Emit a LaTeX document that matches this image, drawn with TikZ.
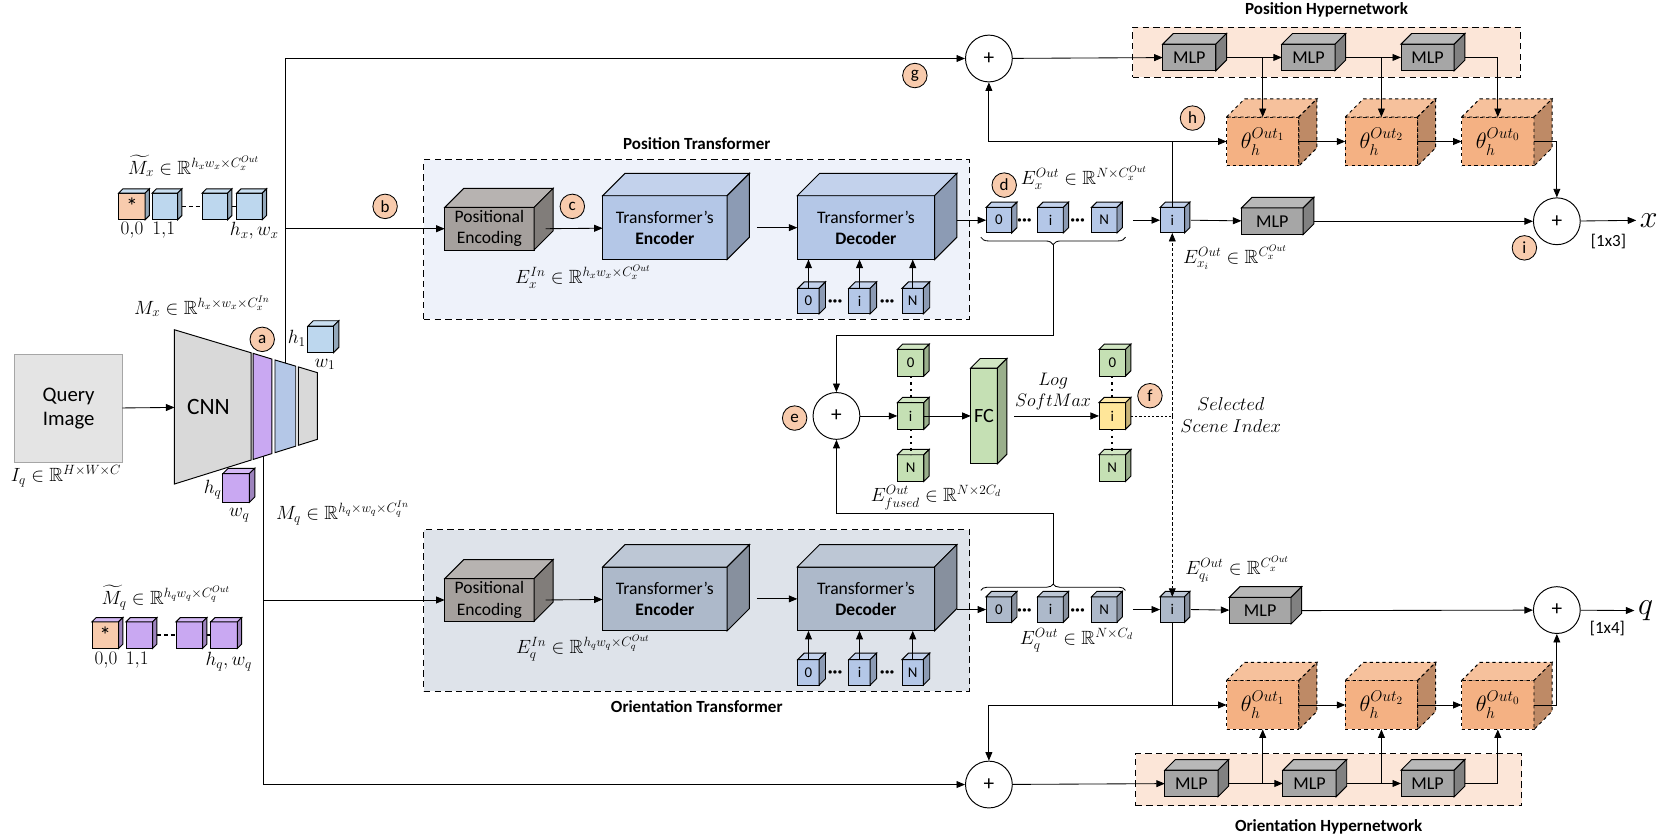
\RequirePackage{fix-cm}
\documentclass[tikz,border=0pt]{standalone}
\usepackage{amsmath,amssymb}
\usepackage{fontspec}
\setmainfont{Carlito}
\usetikzlibrary{arrows.meta,decorations.pathreplacing}

\definecolor{tagc}{HTML}{F8CBAD}
\definecolor{imgc}{HTML}{E4E4E4}
\definecolor{cnnc}{HTML}{D9D9D9}
\definecolor{purp}{HTML}{C9A8F2}
\definecolor{lblue}{HTML}{BDD7EE}
\definecolor{encpos}{HTML}{B4C7E7}
\definecolor{encori}{HTML}{ADB9CA}
\definecolor{pegray}{HTML}{A5A09D}
\definecolor{mlpc}{HTML}{A6A6A6}
\definecolor{thc}{HTML}{F4B183}
\definecolor{grn}{HTML}{C5E0B4}
\definecolor{ylw}{HTML}{FFE699}
\definecolor{posbg}{HTML}{EEF2FA}
\definecolor{oribg}{HTML}{DEE3EA}
\definecolor{hypbg}{HTML}{FCE6D8}

\newcommand\fs[2]{\fontsize{#1}{#2}\selectfont}
\newcommand\tdots{\textbf{···}}
% top and side faces of a box whose front face is a node
\newcommand\faces[4][]{%
  \filldraw[line width=0.9pt, fill=#4!80!white, #1] (#2.north west) -- ++(#3,-#3)
    -- ([shift={(#3,-#3)}]#2.north east) -- (#2.north east) -- cycle;
  \filldraw[line width=0.9pt, fill=#4!78!black, #1] (#2.north east) -- ++(#3,-#3)
    -- ([shift={(#3,-#3)}]#2.south east) -- (#2.south east) -- cycle;}

\begin{document}
\begin{tikzpicture}[x=1pt,y=-1pt,
    wire/.style={line width=0.8pt},
    arr/.style={line width=0.8pt, -{Triangle[length=8pt,width=6.5pt]}},
    tag/.style={circle, draw, line width=0.8pt, fill=tagc, inner sep=0pt, minimum size=23pt, font=\fs{16}{16}},
    sumc/.style={circle, draw, line width=0.9pt, fill=white, inner sep=0pt, minimum size=44pt, font=\fs{20}{20}},
    blk/.style={draw, line width=0.9pt, fill=#1, inner sep=0pt, outer sep=0pt, align=center},
    tok/.style={blk=#1, minimum width=24pt, minimum height=24pt, font=\fs{14}{14}},
    mlp/.style={blk=mlpc, minimum width=50pt, minimum height=25pt, font=\fs{17}{17}},
    theta/.style={blk=thc, dashed, minimum width=68pt, minimum height=46pt, font=\fs{21}{21}},
    lbl/.style={font=\fs{18}{18}},
    dotl/.style={font=\fs{17}{17}, inner sep=0pt},
    ttl/.style={font=\fs{16}{16}\bfseries},
    dbox/.style={draw, line width=0.9pt, dash pattern=on 6pt off 4pt, fill=#1, inner sep=0pt}
]
\useasboundingbox (0,0) rectangle (1568,787);

% frames
\node[dbox=posbg, minimum width=513pt, minimum height=150pt] (ptf) at (655,225) {};
\node[ttl] (ptt) at (655,135) {Position Transformer};
\node[dbox=oribg, minimum width=513pt, minimum height=152pt] (otf) at (655,574) {};
\node[ttl] (ott) at (655,664) {Orientation Transformer};
\node[dbox=hypbg, minimum width=364pt, minimum height=47pt] (phf) at (1247,49) {};
\node[ttl] (pht) at (1247,9) {Position Hypernetwork};
\node[dbox=hypbg, minimum width=363pt, minimum height=49pt] (ohf) at (1249,733) {};
\node[ttl] (oht) at (1249,777) {Orientation Hypernetwork};

% query image and backbone
\node[blk=imgc, draw=gray!70, minimum width=101pt, minimum height=101pt, font=\fs{19.5}{23}] (img) at (64.5,384) {Query\\Image};
\node[lbl] (imgl) at (62,448) {$I_q \in \mathbb{R}^{H\times W\times C}$};
\filldraw[line width=0.9pt, fill=cnnc] (164,310) -- (236,331.6) -- (236,432.5) -- (164,455) -- cycle;
\filldraw[line width=0.9pt, fill=purp] (238,332.2) -- (255.5,337.5) -- (255.5,426.4) -- (238,431.9) -- cycle;
\filldraw[line width=0.9pt, fill=encpos] (258.5,338.4) -- (278,344.2) -- (278,419.4) -- (258.5,425.5) -- cycle;
\filldraw[line width=0.9pt, fill=cnnc] (280.4,344.9) -- (298.3,350.3) -- (298.3,413) -- (280.4,418.6) -- cycle;
\node[font=\fs{22}{22}] (cnn) at (196,383) {CNN};
\coordinate (cnnin) at (164,383);
\draw[arr] (img) -- (cnnin);
\node[tag] (ta) at (246.5,319) {a};
\node[tok=lblue, minimum height=25pt] (h1c) at (301.5,319) {};
\faces{h1c}{5}{lblue}
\node[lbl] (h1l) at (279,318) {$h_1$};
\node[lbl] (w1l) at (305.5,342.5) {$w_1$};
\node[tok=purp, minimum width=25pt, minimum height=27pt] (hqc) at (222,458.7) {};
\faces{hqc}{5}{purp}
\node[lbl] (hql) at (200,460) {$h_q$};
\node[lbl] (wql) at (225,484) {$w_q$};
\node[lbl] (mxl) at (190,288) {$M_x \in \mathbb{R}^{h_x\times w_x\times C_x^{In}}$};
\node[lbl, anchor=west] (mql) at (256,482) {$M_q \in \mathbb{R}^{h_q\times w_q\times C_q^{In}}$};

% flattened maps
\node[lbl] (mtx) at (182,156) {$\widetilde{M}_x \in \mathbb{R}^{h_xw_x\times C_x^{Out}}$};
\node[tok=tagc, minimum width=25pt, minimum height=25pt, font=\fs{22}{22}] (sx0) at (124,194) {*};
\foreach \k/\x in {1/155, 2/202, 3/234.6}
  \node[tok=lblue, minimum width=24pt, minimum height=25pt] (sx\k) at (\x,194) {};
\foreach \k in {0,...,3} {\faces{sx\k}{4}{lblue}}
\draw[line width=1.6pt, dash pattern=on 4pt off 2.5pt] ([xshift=4pt]sx1.east) -- (sx2.west);
\draw[line width=1.6pt] ([xshift=4pt]sx2.east) -- (sx3.west);
\node[lbl] (sx0l) at (124,216) {$0{,}0$};
\node[lbl] (sx1l) at (154,216) {$1{,}1$};
\node[lbl] (sx3l) at (239,217) {$h_x,w_x$};

\node[lbl] (mtq) at (156,562) {$\widetilde{M}_q \in \mathbb{R}^{h_qw_q\times C_q^{Out}}$};
\node[tok=tagc, minimum width=25pt, minimum height=25pt, font=\fs{22}{22}] (sq0) at (99,597) {*};
\foreach \k/\x in {1/131, 2/178, 3/210.7}
  \node[tok=purp, minimum width=25pt, minimum height=25pt] (sq\k) at (\x,597) {};
\foreach \k in {0,...,3} {\faces{sq\k}{4}{purp}}
\draw[line width=1.6pt, dash pattern=on 4pt off 2.5pt] ([xshift=4pt]sq1.east) -- (sq2.west);
\draw[line width=1.6pt] ([xshift=4pt]sq2.east) -- (sq3.west);
\node[lbl] (sq0l) at (99.7,621) {$0{,}0$};
\node[lbl] (sq1l) at (129,621) {$1{,}1$};
\node[lbl] (sq3l) at (215,622) {$h_q,w_q$};

% position transformer
\node[blk=pegray, minimum width=84pt, minimum height=40pt, font=\fs{16.5}{20}] (pe1) at (460,215) {Positional\\Encoding};
\faces{pe1}{18}{pegray}
\node[blk=encpos, minimum width=117pt, minimum height=60pt, font=\fs{16.5}{20}] (enc1) at (625,214) {Transformer's\\\textbf{Encoder}};
\faces{enc1}{21}{encpos}
\node[blk=encpos, minimum width=129pt, minimum height=60pt, font=\fs{16.5}{20}] (dec1) at (814,214) {Transformer's\\\textbf{Decoder}};
\faces{dec1}{21}{encpos}
\foreach \k/\x/\lab in {0/760/0, i/808/i, N/858/N} {
  \node[tok=encpos, minimum width=20pt] (pq\k) at (\x,283) {\lab};
  \faces{pq\k}{6}{encpos}
  \draw[arr] (pq\k) -- (pq\k |- dec1.south);
}
\node[dotl] (pqd1) at (785,285) {\tdots};
\node[dotl] (pqd2) at (834,285) {\tdots};
\node[tag] (tc) at (538,194) {c};
\node[lbl] (exin) at (548,260) {$E_x^{In} \in \mathbb{R}^{h_xw_x\times C_x^{Out}}$};
\draw[arr] ([xshift=11pt]pe1.east) -- (enc1);
\draw[arr] ([xshift=28pt]enc1.east) -- (dec1);

% orientation transformer
\node[blk=pegray, minimum width=84pt, minimum height=40pt, font=\fs{16.5}{20}] (pe2) at (460,564) {Positional\\Encoding};
\faces{pe2}{18}{pegray}
\node[blk=encori, minimum width=117pt, minimum height=60pt, font=\fs{16.5}{20}] (enc2) at (625,563) {Transformer's\\\textbf{Encoder}};
\faces{enc2}{21}{encori}
\node[blk=encori, minimum width=129pt, minimum height=60pt, font=\fs{16.5}{20}] (dec2) at (814,563) {Transformer's\\\textbf{Decoder}};
\faces{dec2}{21}{encori}
\foreach \k/\x/\lab in {0/760/0, i/808/i, N/858/N} {
  \node[tok=encpos, minimum width=20pt] (oq\k) at (\x,632) {\lab};
  \faces{oq\k}{6}{encpos}
  \draw[arr] (oq\k) -- (oq\k |- dec2.south);
}
\node[dotl] (oqd1) at (785,634) {\tdots};
\node[dotl] (oqd2) at (834,634) {\tdots};
\node[lbl] (eqin) at (548,609) {$E_q^{In} \in \mathbb{R}^{h_qw_q\times C_q^{Out}}$};
\draw[arr] ([xshift=11pt]pe2.east) -- (enc2);
\draw[arr] ([xshift=28pt]enc2.east) -- (dec2);

% inputs of the transformers
\coordinate (bluetop) at (268.5,341);
\coordinate (purpbot) at (247.5,429);
\node[sumc] (sg) at (929.6,55) {+};
\node[sumc] (sb) at (929.6,737.5) {+};
\draw[arr] (bluetop) |- (sg);
\coordinate (jb) at (268.5,215);
\draw[arr] (jb) -- (pe1);
\draw[arr] (purpbot) |- (sb);
\coordinate (jq) at (247.5,564);
\draw[arr] (jq) -- (pe2);
\node[tag] (tb) at (362,194) {b};
\node[tag] (tg) at (860,71) {g};

% position outputs
\foreach \k/\x in {0/939, i/987.5, N/1038} {
  \node[tok=encpos] (po\k) at (\x,207) {\k};
  \faces{po\k}{5}{encpos}
}
\node[dotl] (pod1) at (963,209) {\tdots};
\node[dotl] (pod2) at (1013,209) {\tdots};
\draw[arr] ([shift={(21,-7)}]dec1.east) -- (po0);
\draw[wire, decorate, decoration={brace, mirror, amplitude=7pt}] (922,223) -- (1058,223);
\coordinate (bx) at (990,230);
\node[tag] (td) at (944,174) {d};
\node[lbl] (exo) at (1019,167) {$E_x^{Out} \in \mathbb{R}^{N\times C_x^{Out}}$};
\node[tok=encpos, minimum width=23pt] (si1) at (1102,207) {i};
\faces{si1}{5}{encpos}
\draw[arr] ([xshift=15pt]poN.east) -- (si1);
\node[mlp, minimum width=58pt] (mx) at (1196,208) {MLP};
\faces{mx}{10}{mlpc}
\draw[arr] ([xshift=6pt]si1.east) -- (mx);
\node[lbl] (exi) at (1161,242) {$E_{x_i}^{Out} \in \mathbb{R}^{C_x^{Out}}$};
\node[sumc] (sx) at (1463.5,208) {+};
\draw[arr] ([xshift=10pt]mx.east) -- (sx);
\node[font=\fs{30}{30}] (xo) at (1550,207) {$x$};
\draw[arr] (sx) -- (xo);
\node[font=\fs{16}{16}] (x13) at (1512,227) {[1x3]};
\node[tag] (ti) at (1433,233) {i};

% position hypernetwork
\foreach \k/\x in {1/1118, 2/1230, 3/1342} {
  \node[mlp] (pm\k) at (\x,54) {MLP};
  \faces{pm\k}{10}{mlpc}
}
\foreach \k/\x/\sub in {1/1187/1, 2/1298.6/2, 3/1408/0} {
  \node[theta] (pt\k) at (\x,133) {$\theta_h^{Out_\sub}$};
  \faces[dashed]{pt\k}{17}{thc}
}
\draw[arr] (sg) -- (pm1);
\draw[arr] ([xshift=10pt]pm1.east) -- (pm2);
\draw[arr] ([xshift=10pt]pm2.east) -- (pm3);
\draw[arr] (pm1.east -| pt1) -- (pt1);
\draw[arr] (pm2.east -| pt2) -- (pt2);
\draw[arr] ([xshift=10pt]pm3.east) -| (pt3);
\draw[arr] (pt1) -- (pt2);
\draw[arr] (pt2) -- (pt3);
\draw[arr] (pt3) -| (sx);
\coordinate (jh1) at (1102,133);
\coordinate (jg1) at (929.6,133);
\draw[wire] (si1) -- (jh1);
\draw[arr] (jh1) -- (pt1);
\draw[arr] (jh1) -- (jg1) -- (sg);
\node[tag] (th) at (1121,111) {h};

% orientation outputs
\foreach \k/\x in {0/939, i/987.5, N/1038} {
  \node[tok=encori] (oo\k) at (\x,573) {\k};
  \faces{oo\k}{5}{encori}
}
\node[dotl] (ood1) at (963,575) {\tdots};
\node[dotl] (ood2) at (1013,575) {\tdots};
\draw[arr] ([shift={(21,10)}]dec2.east) -- (oo0);
\draw[wire, decorate, decoration={brace, amplitude=6pt}] (922,555) -- (1058,555);
\coordinate (bq) at (990,549);
\node[lbl] (eqo) at (1012,602) {$E_q^{Out} \in \mathbb{R}^{N\times C_d}$};
\node[tok=encori, minimum width=23pt] (si2) at (1102,573) {i};
\faces{si2}{5}{encori}
\draw[arr] ([xshift=15pt]ooN.east) -- (si2);
\node[mlp, minimum width=58pt] (mq) at (1184.6,574) {MLP};
\faces{mq}{10}{mlpc}
\draw[arr] ([xshift=6pt]si2.east) -- (mq);
\node[lbl] (eqi) at (1163,535) {$E_{q_i}^{Out} \in \mathbb{R}^{C_x^{Out}}$};
\node[sumc] (sq) at (1463.5,573.5) {+};
\draw[arr] ([xshift=10pt]mq.east) -- (sq);
\node[font=\fs{30}{30}] (qo) at (1547,574) {$q$};
\draw[arr] (sq) -- (qo);
\node[font=\fs{16}{16}] (x14) at (1511,591) {[1x4]};

% orientation hypernetwork
\foreach \k/\x in {1/1120, 2/1231, 3/1342} {
  \node[mlp] (om\k) at (\x,736.5) {MLP};
  \faces{om\k}{10}{mlpc}
}
\foreach \k/\x/\sub in {1/1187/1, 2/1298.6/2, 3/1408/0} {
  \node[theta] (ot\k) at (\x,662.7) {$\theta_h^{Out_\sub}$};
  \faces[dashed]{ot\k}{17}{thc}
}
\draw[arr] (sb) -- (om1);
\draw[arr] ([xshift=10pt]om1.east) -- (om2);
\draw[arr] ([xshift=10pt]om2.east) -- (om3);
\draw[arr] (om1.east -| ot1) -- (ot1);
\draw[arr] (om2.east -| ot2) -- (ot2);
\draw[arr] ([xshift=10pt]om3.east) -| (ot3);
\draw[arr] (ot1) -- (ot2);
\draw[arr] (ot2) -- (ot3);
\draw[arr] (ot3) -| (sq);
\coordinate (jh2) at (1102,662.7);
\coordinate (jg2) at (929.6,662.7);
\draw[wire] (si2) -- (jh2);
\draw[arr] (jh2) -- (ot1);
\draw[arr] (jh2) -- (jg2) -- (sb);

% fusion and scene classification
\node[sumc] (se) at (786.3,391) {+};
\node[tag] (te) at (747,393) {e};
\coordinate (je1) at (786.3,315);
\coordinate (je2) at (786.3,482.5);
\draw[arr] (bx) |- (je1) -- (se);
\draw[arr] (bq) |- (je2) -- (se);
\foreach \k/\y/\lab in {0/341/0, i/391/i, N/440/N} {
  \node[tok=grn, minimum width=25pt, minimum height=25pt] (g\k) at (856,\y) {\lab};
  \faces{g\k}{5}{grn}
}
\draw[line width=2pt, dash pattern=on 2pt off 4pt] (g0) -- (gi);
\draw[line width=2pt, dash pattern=on 2pt off 4pt] (gi) -- (gN);
\draw[arr] (se) -- (gi);
\node[blk=grn, minimum width=25pt, minimum height=90pt, font=\fs{19}{19}] (fc) at (925,391) {FC};
\faces{fc}{9}{grn}
\draw[arr] (gi) -- (fc);
\node[lbl] (efu) at (880,468) {$E_{fused}^{Out} \in \mathbb{R}^{N\times 2C_d}$};
\foreach \k/\y/\lab/\col in {0/341/0/grn, i/391/i/ylw, N/440/N/grn} {
  \node[tok=\col, minimum width=25pt, minimum height=25pt] (c\k) at (1045.6,\y) {\lab};
  \faces{c\k}{5}{\col}
}
\draw[line width=2pt, dash pattern=on 2pt off 4pt] (c0) -- (ci);
\draw[line width=2pt, dash pattern=on 2pt off 4pt] (ci) -- (cN);
\draw[arr] ([xshift=16pt]fc.east) -- (ci);
\node[font=\fs{17}{19}, align=center] (lsm) at (990,368) {$Log$\\$SoftMax$};
\node[tag] (tf) at (1081,372) {f};
\coordinate (jsel) at (1102,391);
\draw[wire, dash pattern=on 2pt off 2pt] ([xshift=5pt]ci.east) -- (jsel);
\draw[arr, line width=0.6pt, dash pattern=on 3pt off 2pt] (jsel) -- (si1);
\draw[arr, line width=0.6pt, dash pattern=on 3pt off 2pt] (jsel) -- (si2);
\node[font=\fs{17.5}{21}, align=center] (ssi) at (1157,390) {$Selected$\\$Scene\ Index$};
\end{tikzpicture}
\end{document}
